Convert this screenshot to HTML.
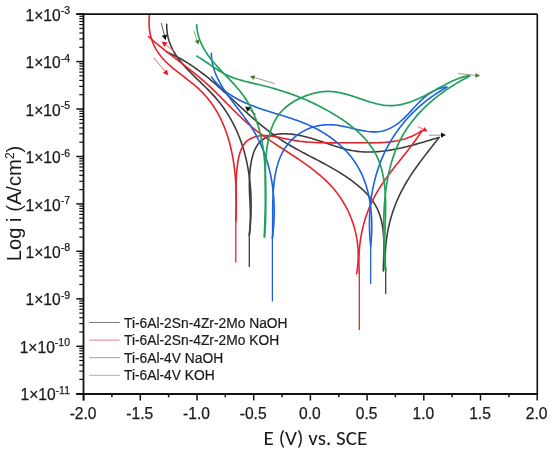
<!DOCTYPE html>
<html><head><meta charset="utf-8"><style>
html,body{margin:0;padding:0;background:#fff;}
body{width:550px;height:454px;overflow:hidden;}
svg{display:block;}
</style></head><body>
<svg width="550" height="454" viewBox="0 0 550 454">
<rect width="550" height="454" fill="#fff"/>
<g font-family="Liberation Sans, Arial, sans-serif" font-size="15.6" fill="#1a1a1a" stroke="#1a1a1a" stroke-width="0.25">
<text x="83.1" y="419.2" text-anchor="middle">-2.0</text><text x="139.8" y="419.2" text-anchor="middle">-1.5</text><text x="196.5" y="419.2" text-anchor="middle">-1.0</text><text x="253.2" y="419.2" text-anchor="middle">-0.5</text><text x="309.9" y="419.2" text-anchor="middle">0.0</text><text x="366.6" y="419.2" text-anchor="middle">0.5</text><text x="423.3" y="419.2" text-anchor="middle">1.0</text><text x="480.0" y="419.2" text-anchor="middle">1.5</text><text x="536.7" y="419.2" text-anchor="middle">2.0</text>
<text x="70" y="400.3" text-anchor="end">1&#215;10<tspan dy="-6.5" font-size="10.5">-11</tspan></text><text x="70" y="352.9" text-anchor="end">1&#215;10<tspan dy="-6.5" font-size="10.5">-10</tspan></text><text x="70" y="305.4" text-anchor="end">1&#215;10<tspan dy="-6.5" font-size="10.5">-9</tspan></text><text x="70" y="257.9" text-anchor="end">1&#215;10<tspan dy="-6.5" font-size="10.5">-8</tspan></text><text x="70" y="210.5" text-anchor="end">1&#215;10<tspan dy="-6.5" font-size="10.5">-7</tspan></text><text x="70" y="163.1" text-anchor="end">1&#215;10<tspan dy="-6.5" font-size="10.5">-6</tspan></text><text x="70" y="115.6" text-anchor="end">1&#215;10<tspan dy="-6.5" font-size="10.5">-5</tspan></text><text x="70" y="68.2" text-anchor="end">1&#215;10<tspan dy="-6.5" font-size="10.5">-4</tspan></text><text x="70" y="20.7" text-anchor="end">1&#215;10<tspan dy="-6.5" font-size="10.5">-3</tspan></text>
</g>
<g font-family="Liberation Sans, Arial, sans-serif" font-size="13.8" fill="#1a1a1a" stroke="#1a1a1a" stroke-width="0.2">
<line x1="89.2" y1="322.5" x2="119.7" y2="322.5" stroke="#7a7a7a" stroke-width="1"/><text x="124" y="327.5">Ti-6Al-2Sn-4Zr-2Mo NaOH</text><line x1="89.2" y1="340.1" x2="119.7" y2="340.1" stroke="#de8088" stroke-width="1"/><text x="124" y="345.1">Ti-6Al-2Sn-4Zr-2Mo KOH</text><line x1="89.2" y1="357.7" x2="119.7" y2="357.7" stroke="#78a0ea" stroke-width="1"/><text x="124" y="362.7">Ti-6Al-4V NaOH</text><line x1="89.2" y1="375.3" x2="119.7" y2="375.3" stroke="#88c4a0" stroke-width="1"/><text x="124" y="380.3">Ti-6Al-4V KOH</text>
</g>
<g>
<path d="M166.70 24.40 L166.70 26.58 L166.79 28.71 L166.97 30.80 L167.22 32.84 L167.56 34.85 L167.97 36.82 L168.45 38.75 L169.01 40.64 L169.63 42.50 L170.32 44.33 L171.08 46.12 L171.89 47.88 L172.76 49.62 L173.69 51.32 L174.67 53.00 L175.70 54.66 L176.78 56.29 L177.90 57.89 L179.07 59.48 L180.27 61.05 L181.51 62.60 L182.79 64.13 L184.10 65.65 L185.44 67.15 L186.80 68.64 L188.19 70.12 L189.60 71.58 L191.03 73.04 L192.48 74.50 L193.94 75.94 L195.41 77.39 L196.89 78.83 L198.37 80.26 L199.86 81.70 L201.35 83.14 L202.84 84.58 L204.32 86.02 L205.80 87.47 L207.27 88.93 L208.72 90.40 L210.16 91.87 L211.58 93.35 L212.98 94.85 L214.36 96.36 L215.72 97.89 L217.04 99.43 L218.34 100.98 L219.61 102.56 L220.85 104.15 L222.06 105.75 L223.24 107.37 L224.40 109.01 L225.53 110.66 L226.63 112.33 L227.70 114.01 L228.75 115.70 L229.77 117.41 L230.77 119.13 L231.73 120.87 L232.67 122.62 L233.59 124.38 L234.48 126.15 L235.34 127.94 L236.18 129.73 L236.99 131.54 L237.78 133.36 L238.54 135.20 L239.28 137.04 L240.00 138.89 L240.69 140.76 L241.35 142.63 L241.99 144.51 L242.61 146.41 L243.21 148.31 L243.78 150.22 L244.33 152.14 L244.85 154.07 L245.35 156.00 L245.83 157.95 L246.29 159.90 L246.73 161.86 L247.14 163.83 L247.53 165.80 L247.90 167.78 L248.25 169.77 L248.58 171.76 L248.89 173.76 L249.17 175.76 L249.44 177.77 L249.68 179.78 L249.91 181.80 L250.11 183.82 L250.30 185.85 L250.46 187.88 L250.61 189.91 L250.73 191.95 L250.84 193.99 L250.93 196.03 L251.00 198.08 L251.05 200.12 L251.09 202.17 L251.10 204.22 L251.10 206.28 L251.08 208.33 L251.04 210.38 L250.99 212.44 L250.92 214.49 L250.83 216.55 L250.72 218.60 L250.60 220.66 L250.46 222.71 L250.31 224.76 L250.14 226.82 L249.95 228.86 L249.75 230.91 L249.53 232.96 L249.30 235.00" fill="none" stroke="#3c3c3c" stroke-width="1.60" stroke-linejoin="round" stroke-linecap="round"/>
<path d="M249.30 235.00 L249.57 232.57 L249.80 230.21 L249.98 227.91 L250.13 225.67 L250.25 223.47 L250.33 221.33 L250.38 219.23 L250.41 217.17 L250.41 215.16 L250.39 213.17 L250.35 211.22 L250.30 209.29 L250.23 207.39 L250.15 205.50 L250.06 203.64 L249.97 201.78 L249.88 199.93 L249.78 198.09 L249.69 196.25 L249.61 194.41 L249.53 192.56 L249.47 190.70 L249.41 188.82 L249.38 186.93 L249.36 185.02 L249.37 183.09 L249.40 181.12 L249.45 179.13 L249.54 177.10 L249.66 175.03 L249.81 172.91 L250.01 170.75 L250.24 168.56 L250.52 166.34 L250.85 164.12 L251.24 161.89 L251.69 159.69 L252.20 157.52 L252.78 155.39 L253.43 153.32 L254.16 151.32 L254.98 149.41 L255.88 147.59 L256.87 145.89 L257.95 144.31 L259.13 142.86 L260.40 141.54 L261.75 140.33 L263.18 139.24 L264.69 138.26 L266.26 137.39 L267.90 136.62 L269.61 135.95 L271.37 135.38 L273.18 134.91 L275.03 134.52 L276.93 134.21 L278.87 133.99 L280.84 133.85 L282.83 133.77 L284.86 133.77 L286.89 133.83 L288.95 133.96 L291.01 134.14 L293.08 134.38 L295.14 134.67 L297.21 135.00 L299.26 135.38 L301.30 135.79 L303.32 136.24 L305.34 136.73 L307.34 137.24 L309.32 137.78 L311.30 138.34 L313.26 138.93 L315.22 139.53 L317.17 140.15 L319.11 140.78 L321.05 141.42 L322.98 142.06 L324.90 142.71 L326.82 143.36 L328.74 144.00 L330.65 144.65 L332.56 145.28 L334.47 145.90 L336.39 146.50 L338.30 147.09 L340.22 147.66 L342.13 148.21 L344.06 148.73 L345.98 149.22 L347.91 149.68 L349.85 150.10 L351.80 150.49 L353.75 150.83 L355.71 151.14 L357.68 151.39 L359.66 151.60 L361.65 151.76 L363.65 151.89 L365.66 151.97 L367.67 152.00 L369.68 152.00 L371.71 151.96 L373.73 151.89 L375.77 151.78 L377.80 151.63 L379.84 151.45 L381.88 151.24 L383.92 151.00 L385.96 150.74 L388.00 150.44 L390.04 150.12 L392.09 149.77 L394.12 149.40 L396.16 149.01 L398.19 148.59 L400.22 148.16 L402.25 147.71 L404.27 147.24 L406.28 146.75 L408.29 146.25 L410.29 145.74 L412.28 145.22 L414.26 144.68 L416.24 144.14 L418.20 143.59 L420.16 143.03 L422.10 142.47 L424.04 141.90 L425.96 141.34 L427.86 140.77 L429.76 140.20 L431.64 139.63 L433.50 139.06 L435.35 138.50 L437.18 137.95 L439.00 137.40" fill="none" stroke="#3c3c3c" stroke-width="1.60" stroke-linejoin="round" stroke-linecap="round"/>
<path d="M439.00 137.60 L437.77 139.18 L436.53 140.76 L435.28 142.35 L434.04 143.93 L432.79 145.52 L431.53 147.12 L430.28 148.71 L429.03 150.31 L427.78 151.91 L426.54 153.52 L425.29 155.13 L424.05 156.75 L422.82 158.37 L421.59 159.99 L420.38 161.63 L419.17 163.26 L417.97 164.91 L416.78 166.56 L415.60 168.22 L414.43 169.89 L413.28 171.56 L412.14 173.24 L411.02 174.93 L409.92 176.63 L408.83 178.34 L407.76 180.05 L406.71 181.78 L405.68 183.52 L404.67 185.26 L403.69 187.02 L402.73 188.79 L401.79 190.57 L400.88 192.36 L399.99 194.16 L399.13 195.97 L398.29 197.79 L397.48 199.63 L396.69 201.47 L395.93 203.32 L395.19 205.18 L394.48 207.06 L393.80 208.94 L393.14 210.83 L392.50 212.73 L391.89 214.64 L391.31 216.55 L390.75 218.48 L390.22 220.42 L389.72 222.36 L389.24 224.31 L388.79 226.27 L388.37 228.23 L387.97 230.21 L387.59 232.19 L387.25 234.18 L386.93 236.17 L386.64 238.18 L386.37 240.19 L386.14 242.20 L385.93 244.22 L385.74 246.25 L385.59 248.28 L385.46 250.32 L385.36 252.37 L385.28 254.42 L385.24 256.48 L385.22 258.54 L385.23 260.60 L385.27 262.67 L385.33 264.75 L385.43 266.83 L385.55 268.91 L385.70 271.00" fill="none" stroke="#3c3c3c" stroke-width="1.60" stroke-linejoin="round" stroke-linecap="round"/>
<path d="M383.30 271.00 L383.35 269.11 L383.41 267.18 L383.47 265.23 L383.54 263.26 L383.61 261.27 L383.68 259.26 L383.75 257.23 L383.80 255.18 L383.85 253.12 L383.89 251.05 L383.91 248.98 L383.92 246.89 L383.90 244.81 L383.87 242.72 L383.81 240.63 L383.72 238.54 L383.60 236.46 L383.45 234.38 L383.27 232.32 L383.05 230.26 L382.79 228.22 L382.48 226.20 L382.14 224.19 L381.74 222.20 L381.29 220.23 L380.80 218.29 L380.24 216.37 L379.63 214.49 L378.96 212.63 L378.22 210.81 L377.42 209.02 L376.56 207.27 L375.62 205.56 L374.62 203.88 L373.56 202.24 L372.45 200.63 L371.28 199.06 L370.06 197.52 L368.79 196.02 L367.48 194.54 L366.13 193.10 L364.75 191.69 L363.32 190.30 L361.87 188.95 L360.39 187.62 L358.89 186.32 L357.37 185.04 L355.83 183.79 L354.26 182.56 L352.68 181.36 L351.09 180.17 L349.47 179.01 L347.84 177.87 L346.19 176.75 L344.53 175.64 L342.86 174.56 L341.17 173.48 L339.47 172.43 L337.76 171.39 L336.04 170.36 L334.30 169.34 L332.56 168.34 L330.81 167.35 L329.05 166.36 L327.28 165.39 L325.51 164.42 L323.73 163.46 L321.94 162.50 L320.16 161.55 L318.36 160.60 L316.57 159.66 L314.77 158.72 L312.97 157.78 L311.17 156.84 L309.37 155.90 L307.57 154.95 L305.78 154.01 L303.98 153.06 L302.19 152.10 L300.40 151.14 L298.62 150.17 L296.84 149.20 L295.07 148.22 L293.30 147.22 L291.55 146.22 L289.80 145.21 L288.05 144.18 L286.32 143.14 L284.60 142.09 L282.89 141.02 L281.19 139.93 L279.51 138.83 L277.84 137.71 L276.18 136.57 L274.53 135.42 L272.90 134.25 L271.27 133.06 L269.66 131.86 L268.06 130.64 L266.47 129.41 L264.89 128.16 L263.32 126.91 L261.76 125.64 L260.21 124.36 L258.66 123.07 L257.13 121.77 L255.60 120.46 L254.07 119.14 L252.56 117.81 L251.05 116.48 L249.54 115.13 L248.04 113.79 L246.54 112.43 L245.05 111.08 L243.56 109.71 L242.08 108.35 L240.59 106.98 L239.11 105.61 L237.63 104.24 L236.15 102.87 L234.67 101.49 L233.19 100.12 L231.72 98.75 L230.24 97.38 L228.76 96.01 L227.27 94.65 L225.79 93.28 L224.30 91.93 L222.81 90.58 L221.32 89.23 L219.82 87.89 L218.32 86.56 L216.81 85.23 L215.30 83.91 L213.78 82.61 L212.26 81.31 L210.73 80.02 L209.19 78.74 L207.64 77.47 L206.09 76.22 L204.52 74.98 L202.95 73.75 L201.37 72.53 L199.78 71.33 L198.17 70.15 L196.56 68.98 L194.94 67.83 L193.30 66.69 L191.65 65.58 L189.99 64.48 L188.31 63.40 L186.62 62.34 L184.92 61.31 L183.20 60.29 L181.47 59.29 L179.72 58.32 L177.96 57.37 L176.17 56.45 L174.38 55.54 L172.56 54.67 L170.73 53.82 L168.87 52.99 L167.00 52.20" fill="none" stroke="#3c3c3c" stroke-width="1.60" stroke-linejoin="round" stroke-linecap="round"/>
<line x1="249.3" y1="235.0" x2="249.3" y2="267.0" stroke="#3c3c3c" stroke-width="1.3"/>
<line x1="385.7" y1="271.0" x2="385.7" y2="294.0" stroke="#3c3c3c" stroke-width="1.3"/>
<path d="M149.50 14.50 L149.27 16.75 L149.12 18.97 L149.05 21.16 L149.05 23.31 L149.12 25.44 L149.27 27.53 L149.49 29.58 L149.79 31.61 L150.15 33.59 L150.59 35.55 L151.09 37.47 L151.67 39.36 L152.30 41.21 L153.01 43.03 L153.78 44.82 L154.62 46.56 L155.52 48.28 L156.48 49.95 L157.50 51.60 L158.58 53.20 L159.73 54.77 L160.93 56.30 L162.18 57.80 L163.49 59.27 L164.85 60.71 L166.25 62.12 L167.69 63.50 L169.17 64.86 L170.68 66.20 L172.22 67.53 L173.79 68.84 L175.38 70.13 L176.99 71.41 L178.61 72.69 L180.25 73.96 L181.89 75.22 L183.54 76.49 L185.19 77.75 L186.84 79.02 L188.48 80.29 L190.10 81.57 L191.72 82.86 L193.32 84.17 L194.89 85.49 L196.44 86.82 L197.96 88.18 L199.45 89.56 L200.91 90.96 L202.32 92.39 L203.70 93.84 L205.05 95.31 L206.36 96.81 L207.64 98.33 L208.88 99.88 L210.08 101.44 L211.26 103.03 L212.40 104.63 L213.50 106.26 L214.58 107.91 L215.62 109.58 L216.63 111.26 L217.61 112.96 L218.56 114.69 L219.48 116.43 L220.37 118.18 L221.23 119.95 L222.06 121.74 L222.87 123.55 L223.64 125.37 L224.39 127.20 L225.11 129.05 L225.80 130.91 L226.46 132.79 L227.10 134.67 L227.72 136.57 L228.31 138.48 L228.87 140.41 L229.41 142.34 L229.92 144.28 L230.42 146.24 L230.88 148.20 L231.33 150.17 L231.75 152.15 L232.15 154.14 L232.53 156.13 L232.89 158.13 L233.23 160.14 L233.55 162.16 L233.85 164.18 L234.12 166.20 L234.38 168.23 L234.62 170.26 L234.85 172.30 L235.05 174.34 L235.24 176.38 L235.41 178.43 L235.56 180.47 L235.70 182.52 L235.82 184.57 L235.93 186.62 L236.02 188.66 L236.09 190.71 L236.16 192.76 L236.21 194.80 L236.24 196.84 L236.27 198.88 L236.28 200.92 L236.28 202.95 L236.26 204.98 L236.24 207.00 L236.21 209.02 L236.16 211.04 L236.11 213.04 L236.04 215.04 L235.97 217.04 L235.89 219.02 L235.80 221.00" fill="none" stroke="#e8222b" stroke-width="1.60" stroke-linejoin="round" stroke-linecap="round"/>
<path d="M235.80 221.00 L235.91 218.93 L235.99 216.87 L236.06 214.83 L236.11 212.80 L236.14 210.79 L236.16 208.78 L236.16 206.78 L236.16 204.79 L236.15 202.81 L236.14 200.83 L236.13 198.85 L236.11 196.88 L236.09 194.90 L236.08 192.92 L236.08 190.94 L236.08 188.95 L236.10 186.96 L236.12 184.96 L236.16 182.94 L236.22 180.92 L236.30 178.89 L236.40 176.84 L236.52 174.77 L236.66 172.69 L236.84 170.59 L237.04 168.47 L237.28 166.33 L237.55 164.17 L237.87 162.01 L238.23 159.87 L238.66 157.75 L239.14 155.67 L239.70 153.64 L240.33 151.67 L241.04 149.77 L241.85 147.97 L242.74 146.27 L243.74 144.68 L244.85 143.22 L246.07 141.89 L247.40 140.71 L248.83 139.66 L250.35 138.74 L251.96 137.95 L253.64 137.28 L255.39 136.73 L257.19 136.29 L259.04 135.97 L260.93 135.75 L262.86 135.63 L264.81 135.61 L266.77 135.67 L268.76 135.81 L270.77 136.02 L272.79 136.30 L274.82 136.62 L276.86 136.98 L278.91 137.38 L280.97 137.80 L283.03 138.23 L285.10 138.66 L287.16 139.09 L289.22 139.51 L291.28 139.90 L293.33 140.26 L295.38 140.60 L297.42 140.90 L299.45 141.17 L301.48 141.42 L303.51 141.65 L305.53 141.85 L307.55 142.03 L309.56 142.18 L311.57 142.32 L313.58 142.44 L315.59 142.54 L317.59 142.62 L319.59 142.69 L321.59 142.74 L323.58 142.78 L325.58 142.81 L327.57 142.83 L329.57 142.84 L331.56 142.85 L333.56 142.84 L335.55 142.83 L337.54 142.82 L339.54 142.80 L341.54 142.78 L343.53 142.76 L345.53 142.75 L347.54 142.73 L349.54 142.72 L351.55 142.71 L353.56 142.71 L355.57 142.71 L357.59 142.72 L359.61 142.74 L361.63 142.76 L363.65 142.79 L365.68 142.81 L367.70 142.82 L369.73 142.83 L371.75 142.83 L373.78 142.82 L375.80 142.79 L377.82 142.74 L379.83 142.67 L381.84 142.58 L383.85 142.47 L385.85 142.32 L387.84 142.14 L389.83 141.93 L391.81 141.68 L393.79 141.39 L395.75 141.06 L397.71 140.69 L399.65 140.26 L401.59 139.79 L403.51 139.27 L405.42 138.68 L407.32 138.04 L409.21 137.34 L411.08 136.58 L412.94 135.75 L414.79 134.84 L416.62 133.87 L418.43 132.83 L420.22 131.70 L422.00 130.50" fill="none" stroke="#e8222b" stroke-width="1.60" stroke-linejoin="round" stroke-linecap="round"/>
<path d="M422.00 130.70 L420.92 132.39 L419.81 134.06 L418.68 135.73 L417.53 137.39 L416.37 139.04 L415.18 140.68 L413.98 142.31 L412.77 143.94 L411.55 145.57 L410.31 147.19 L409.07 148.81 L407.81 150.42 L406.55 152.03 L405.28 153.64 L404.01 155.24 L402.73 156.85 L401.45 158.45 L400.17 160.05 L398.89 161.66 L397.62 163.26 L396.34 164.87 L395.07 166.48 L393.81 168.10 L392.56 169.71 L391.31 171.33 L390.07 172.96 L388.85 174.59 L387.63 176.23 L386.43 177.87 L385.25 179.52 L384.08 181.18 L382.93 182.85 L381.80 184.53 L380.70 186.21 L379.61 187.91 L378.54 189.62 L377.50 191.33 L376.49 193.06 L375.51 194.81 L374.55 196.56 L373.62 198.33 L372.72 200.12 L371.85 201.91 L371.01 203.72 L370.20 205.54 L369.41 207.37 L368.66 209.22 L367.93 211.08 L367.23 212.94 L366.56 214.82 L365.92 216.71 L365.31 218.61 L364.73 220.52 L364.17 222.44 L363.65 224.37 L363.15 226.31 L362.68 228.26 L362.23 230.22 L361.82 232.19 L361.43 234.16 L361.07 236.15 L360.74 238.14 L360.44 240.14 L360.16 242.15 L359.91 244.16 L359.69 246.18 L359.50 248.21 L359.33 250.25 L359.20 252.29 L359.08 254.34 L359.00 256.39 L358.94 258.45 L358.91 260.52 L358.91 262.58 L358.94 264.66 L358.99 266.74 L359.07 268.82 L359.17 270.91 L359.30 273.00" fill="none" stroke="#e8222b" stroke-width="1.60" stroke-linejoin="round" stroke-linecap="round"/>
<path d="M356.60 273.60 L356.95 271.52 L357.26 269.43 L357.52 267.36 L357.75 265.28 L357.92 263.21 L358.06 261.14 L358.15 259.07 L358.21 257.01 L358.22 254.96 L358.19 252.91 L358.11 250.87 L358.00 248.84 L357.85 246.81 L357.66 244.80 L357.43 242.79 L357.16 240.79 L356.85 238.80 L356.50 236.82 L356.11 234.85 L355.69 232.89 L355.23 230.94 L354.73 229.01 L354.20 227.08 L353.62 225.18 L353.02 223.28 L352.37 221.40 L351.70 219.53 L350.98 217.68 L350.23 215.85 L349.45 214.03 L348.64 212.23 L347.79 210.44 L346.90 208.67 L345.99 206.92 L345.04 205.19 L344.06 203.48 L343.05 201.79 L342.00 200.12 L340.93 198.47 L339.82 196.84 L338.68 195.23 L337.52 193.65 L336.32 192.08 L335.09 190.54 L333.84 189.03 L332.55 187.54 L331.24 186.07 L329.90 184.63 L328.54 183.21 L327.14 181.81 L325.73 180.43 L324.29 179.07 L322.83 177.73 L321.34 176.41 L319.84 175.10 L318.31 173.82 L316.77 172.55 L315.21 171.29 L313.63 170.05 L312.03 168.82 L310.42 167.61 L308.80 166.41 L307.16 165.21 L305.51 164.03 L303.84 162.86 L302.17 161.70 L300.49 160.54 L298.80 159.39 L297.10 158.25 L295.39 157.11 L293.68 155.98 L291.96 154.85 L290.24 153.73 L288.51 152.60 L286.78 151.48 L285.05 150.36 L283.32 149.24 L281.59 148.11 L279.86 146.99 L278.14 145.86 L276.41 144.73 L274.69 143.59 L272.98 142.45 L271.27 141.30 L269.57 140.15 L267.87 138.98 L266.19 137.81 L264.51 136.63 L262.85 135.44 L261.19 134.24 L259.55 133.03 L257.92 131.80 L256.31 130.56 L254.71 129.31 L253.12 128.04 L251.56 126.76 L250.01 125.46 L248.47 124.14 L246.95 122.81 L245.45 121.47 L243.95 120.12 L242.47 118.76 L241.00 117.38 L239.54 116.00 L238.09 114.61 L236.64 113.21 L235.21 111.80 L233.77 110.39 L232.35 108.97 L230.93 107.55 L229.51 106.12 L228.10 104.70 L226.69 103.27 L225.27 101.84 L223.86 100.41 L222.45 98.98 L221.03 97.55 L219.62 96.13 L218.19 94.71 L216.77 93.30 L215.34 91.89 L213.90 90.48 L212.45 89.09 L211.00 87.70 L209.53 86.32 L208.06 84.95 L206.58 83.59 L205.08 82.24 L203.57 80.91 L202.05 79.58 L200.51 78.27 L198.97 76.97 L197.42 75.67 L195.85 74.39 L194.28 73.11 L192.70 71.84 L191.12 70.58 L189.53 69.32 L187.93 68.07 L186.33 66.82 L184.72 65.58 L183.12 64.34 L181.50 63.10 L179.89 61.87 L178.28 60.63 L176.67 59.40 L175.06 58.17 L173.45 56.93 L171.84 55.70 L170.23 54.46 L168.63 53.22 L167.03 51.97 L165.44 50.72 L163.86 49.47 L162.28 48.21 L160.71 46.94 L159.14 45.67 L157.59 44.39 L156.05 43.10 L154.51 41.80 L152.99 40.49 L151.48 39.17 L149.98 37.84 L148.50 36.50" fill="none" stroke="#e8222b" stroke-width="1.60" stroke-linejoin="round" stroke-linecap="round"/>
<line x1="235.8" y1="221.0" x2="235.8" y2="262.5" stroke="#e8222b" stroke-width="1.3"/>
<line x1="359.3" y1="273.0" x2="359.3" y2="330.0" stroke="#e8222b" stroke-width="1.3"/>
<path d="M211.30 53.30 L211.39 55.40 L211.57 57.47 L211.81 59.51 L212.13 61.52 L212.51 63.50 L212.95 65.45 L213.46 67.38 L214.03 69.28 L214.65 71.15 L215.32 73.01 L216.05 74.84 L216.83 76.64 L217.66 78.43 L218.53 80.20 L219.44 81.96 L220.39 83.69 L221.38 85.41 L222.40 87.12 L223.45 88.81 L224.54 90.49 L225.65 92.16 L226.79 93.82 L227.95 95.47 L229.13 97.11 L230.33 98.75 L231.54 100.38 L232.76 102.00 L234.00 103.63 L235.24 105.25 L236.49 106.86 L237.74 108.48 L238.99 110.10 L240.24 111.73 L241.49 113.35 L242.73 114.98 L243.96 116.62 L245.17 118.26 L246.38 119.91 L247.56 121.57 L248.73 123.23 L249.88 124.91 L251.00 126.60 L252.09 128.31 L253.16 130.03 L254.20 131.76 L255.21 133.51 L256.19 135.26 L257.14 137.04 L258.07 138.82 L258.96 140.62 L259.83 142.43 L260.67 144.25 L261.49 146.09 L262.28 147.93 L263.04 149.79 L263.77 151.65 L264.48 153.53 L265.16 155.42 L265.82 157.32 L266.45 159.22 L267.05 161.14 L267.62 163.07 L268.18 165.00 L268.70 166.94 L269.20 168.89 L269.68 170.85 L270.13 172.82 L270.56 174.79 L270.96 176.77 L271.33 178.76 L271.69 180.75 L272.02 182.75 L272.32 184.76 L272.60 186.77 L272.86 188.78 L273.09 190.81 L273.30 192.83 L273.49 194.86 L273.66 196.90 L273.80 198.94 L273.92 200.98 L274.01 203.02 L274.09 205.07 L274.14 207.12 L274.17 209.17 L274.18 211.23 L274.17 213.29 L274.13 215.34 L274.08 217.40 L274.00 219.46 L273.91 221.52 L273.79 223.59 L273.65 225.65 L273.49 227.71 L273.31 229.77 L273.11 231.83 L272.89 233.89 L272.66 235.95 L272.40 238.00" fill="none" stroke="#1c62e0" stroke-width="1.60" stroke-linejoin="round" stroke-linecap="round"/>
<path d="M272.40 238.00 L272.48 236.30 L272.55 234.57 L272.60 232.79 L272.64 230.98 L272.66 229.13 L272.68 227.25 L272.69 225.33 L272.70 223.39 L272.70 221.42 L272.70 219.42 L272.69 217.40 L272.69 215.36 L272.70 213.30 L272.70 211.22 L272.72 209.13 L272.74 207.02 L272.77 204.90 L272.81 202.77 L272.87 200.63 L272.94 198.48 L273.02 196.33 L273.13 194.18 L273.26 192.03 L273.40 189.88 L273.58 187.74 L273.77 185.60 L274.00 183.46 L274.25 181.34 L274.53 179.23 L274.85 177.13 L275.20 175.05 L275.59 172.99 L276.01 170.94 L276.47 168.92 L276.98 166.92 L277.52 164.94 L278.11 162.99 L278.75 161.08 L279.44 159.19 L280.17 157.33 L280.96 155.52 L281.80 153.73 L282.69 151.99 L283.64 150.29 L284.65 148.63 L285.72 147.02 L286.84 145.45 L288.03 143.93 L289.27 142.46 L290.56 141.03 L291.91 139.66 L293.30 138.34 L294.74 137.08 L296.23 135.86 L297.77 134.71 L299.34 133.61 L300.96 132.57 L302.62 131.58 L304.31 130.66 L306.05 129.80 L307.81 129.00 L309.61 128.27 L311.44 127.60 L313.29 127.00 L315.18 126.46 L317.09 125.99 L319.02 125.60 L320.98 125.27 L322.95 125.02 L324.95 124.83 L326.96 124.73 L328.98 124.70 L331.02 124.74 L333.07 124.86 L335.13 125.06 L337.20 125.32 L339.28 125.63 L341.36 125.99 L343.44 126.39 L345.52 126.83 L347.61 127.29 L349.70 127.76 L351.78 128.25 L353.86 128.73 L355.93 129.21 L358.00 129.67 L360.06 130.11 L362.10 130.52 L364.14 130.89 L366.16 131.22 L368.17 131.49 L370.16 131.70 L372.13 131.84 L374.09 131.90 L376.02 131.88 L377.93 131.76 L379.81 131.54 L381.67 131.22 L383.51 130.78 L385.32 130.24 L387.10 129.61 L388.85 128.88 L390.58 128.06 L392.28 127.15 L393.95 126.17 L395.59 125.10 L397.21 123.97 L398.79 122.77 L400.35 121.50 L401.88 120.18 L403.38 118.81 L404.85 117.39 L406.31 115.93 L407.75 114.44 L409.18 112.93 L410.60 111.41 L412.01 109.87 L413.42 108.33 L414.84 106.80 L416.25 105.28 L417.68 103.78 L419.12 102.30 L420.58 100.87 L422.06 99.47 L423.56 98.12 L425.08 96.82 L426.64 95.57 L428.23 94.39 L429.86 93.28 L431.54 92.24 L433.25 91.27 L435.01 90.38 L436.83 89.58 L438.70 88.86 L440.63 88.24 L442.62 87.73 L444.68 87.31 L446.80 87.00" fill="none" stroke="#1c62e0" stroke-width="1.60" stroke-linejoin="round" stroke-linecap="round"/>
<path d="M446.80 87.30 L444.99 88.32 L443.18 89.36 L441.40 90.43 L439.63 91.51 L437.88 92.62 L436.15 93.75 L434.43 94.90 L432.74 96.07 L431.06 97.27 L429.40 98.48 L427.76 99.71 L426.14 100.97 L424.53 102.24 L422.95 103.54 L421.39 104.85 L419.84 106.19 L418.32 107.54 L416.81 108.92 L415.33 110.31 L413.87 111.72 L412.43 113.15 L411.01 114.59 L409.61 116.06 L408.23 117.54 L406.87 119.04 L405.54 120.56 L404.23 122.10 L402.94 123.65 L401.67 125.22 L400.43 126.80 L399.21 128.40 L398.01 130.02 L396.84 131.65 L395.68 133.30 L394.56 134.97 L393.46 136.65 L392.38 138.34 L391.32 140.05 L390.29 141.78 L389.29 143.52 L388.31 145.27 L387.36 147.04 L386.43 148.82 L385.53 150.61 L384.65 152.42 L383.80 154.24 L382.98 156.08 L382.18 157.92 L381.40 159.78 L380.65 161.65 L379.93 163.53 L379.23 165.42 L378.56 167.32 L377.91 169.24 L377.29 171.16 L376.69 173.09 L376.12 175.03 L375.57 176.98 L375.04 178.94 L374.54 180.90 L374.07 182.88 L373.62 184.86 L373.19 186.84 L372.78 188.84 L372.40 190.84 L372.05 192.85 L371.71 194.86 L371.40 196.88 L371.12 198.90 L370.85 200.93 L370.61 202.96 L370.39 205.00 L370.20 207.04 L370.03 209.08 L369.88 211.12 L369.75 213.17 L369.65 215.22 L369.57 217.27 L369.51 219.33 L369.47 221.38 L369.45 223.44 L369.46 225.49 L369.49 227.55 L369.54 229.61 L369.61 231.66 L369.70 233.71 L369.82 235.77 L369.95 237.82 L370.11 239.87 L370.29 241.92 L370.49 243.96 L370.70 246.00" fill="none" stroke="#1c62e0" stroke-width="1.60" stroke-linejoin="round" stroke-linecap="round"/>
<path d="M370.70 246.00 L370.90 244.01 L371.08 242.00 L371.24 239.98 L371.38 237.95 L371.50 235.92 L371.60 233.87 L371.67 231.82 L371.73 229.77 L371.76 227.71 L371.76 225.64 L371.74 223.57 L371.70 221.50 L371.63 219.43 L371.53 217.36 L371.41 215.29 L371.25 213.22 L371.07 211.16 L370.87 209.10 L370.63 207.05 L370.36 205.00 L370.07 202.95 L369.74 200.92 L369.38 198.90 L368.99 196.88 L368.57 194.88 L368.11 192.89 L367.62 190.91 L367.09 188.95 L366.54 187.00 L365.94 185.06 L365.31 183.15 L364.64 181.25 L363.94 179.37 L363.20 177.51 L362.42 175.67 L361.60 173.86 L360.74 172.06 L359.84 170.29 L358.91 168.55 L357.93 166.83 L356.91 165.14 L355.86 163.47 L354.76 161.82 L353.63 160.21 L352.47 158.62 L351.27 157.05 L350.03 155.51 L348.76 154.00 L347.46 152.51 L346.12 151.05 L344.75 149.61 L343.36 148.20 L341.93 146.82 L340.47 145.47 L338.98 144.14 L337.47 142.83 L335.93 141.56 L334.36 140.31 L332.77 139.09 L331.15 137.89 L329.51 136.73 L327.85 135.59 L326.16 134.47 L324.45 133.39 L322.73 132.33 L320.98 131.30 L319.21 130.30 L317.42 129.32 L315.62 128.38 L313.79 127.46 L311.95 126.57 L310.10 125.71 L308.23 124.87 L306.35 124.07 L304.45 123.28 L302.55 122.52 L300.63 121.78 L298.70 121.06 L296.76 120.36 L294.82 119.68 L292.86 119.01 L290.91 118.35 L288.94 117.71 L286.97 117.07 L285.00 116.45 L283.03 115.83 L281.05 115.22 L279.07 114.61 L277.10 114.00 L275.12 113.40 L273.15 112.79 L271.18 112.18 L269.21 111.57 L267.25 110.95 L265.29 110.32 L263.35 109.69 L261.41 109.04 L259.47 108.39 L257.55 107.72 L255.64 107.03 L253.74 106.33 L251.85 105.61 L249.98 104.87 L248.12 104.10 L246.28 103.32 L244.45 102.51 L242.64 101.67 L240.85 100.81 L239.08 99.92 L237.32 98.99 L235.59 98.04 L233.88 97.05 L232.19 96.02 L230.53 94.95 L228.89 93.85 L227.28 92.71 L225.69 91.52 L224.13 90.29 L222.60 89.02 L221.10 87.70 L219.63 86.33 L218.19 84.91 L216.79 83.44 L215.41 81.91 L214.07 80.33 L212.77 78.70 L211.50 77.00" fill="none" stroke="#1c62e0" stroke-width="1.60" stroke-linejoin="round" stroke-linecap="round"/>
<line x1="272.4" y1="238.0" x2="272.4" y2="301.5" stroke="#1c62e0" stroke-width="1.3"/>
<line x1="370.7" y1="246.0" x2="370.7" y2="284.0" stroke="#1c62e0" stroke-width="1.3"/>
<path d="M196.70 24.90 L196.85 27.04 L197.08 29.14 L197.40 31.19 L197.79 33.20 L198.26 35.17 L198.81 37.10 L199.43 39.00 L200.11 40.86 L200.86 42.68 L201.67 44.48 L202.54 46.24 L203.46 47.97 L204.44 49.68 L205.46 51.36 L206.54 53.01 L207.65 54.65 L208.81 56.26 L210.01 57.85 L211.24 59.42 L212.50 60.98 L213.79 62.52 L215.11 64.05 L216.45 65.56 L217.81 67.07 L219.19 68.57 L220.58 70.05 L221.98 71.54 L223.39 73.02 L224.81 74.50 L226.23 75.97 L227.65 77.45 L229.06 78.93 L230.47 80.41 L231.86 81.90 L233.25 83.39 L234.62 84.90 L235.97 86.41 L237.30 87.94 L238.61 89.48 L239.88 91.03 L241.13 92.60 L242.35 94.19 L243.52 95.79 L244.66 97.42 L245.76 99.07 L246.83 100.73 L247.85 102.42 L248.84 104.13 L249.80 105.85 L250.72 107.59 L251.60 109.35 L252.45 111.13 L253.27 112.92 L254.05 114.73 L254.80 116.56 L255.53 118.40 L256.21 120.25 L256.87 122.12 L257.50 124.00 L258.10 125.90 L258.68 127.81 L259.22 129.73 L259.74 131.67 L260.23 133.61 L260.69 135.57 L261.13 137.53 L261.54 139.51 L261.93 141.50 L262.30 143.49 L262.64 145.49 L262.97 147.51 L263.27 149.53 L263.54 151.55 L263.80 153.59 L264.04 155.63 L264.26 157.67 L264.46 159.72 L264.64 161.78 L264.81 163.84 L264.96 165.90 L265.09 167.97 L265.21 170.04 L265.31 172.11 L265.40 174.19 L265.47 176.27 L265.53 178.35 L265.58 180.42 L265.62 182.50 L265.64 184.58 L265.66 186.66 L265.66 188.74 L265.66 190.81 L265.64 192.88 L265.62 194.95 L265.59 197.02 L265.56 199.09 L265.52 201.15 L265.47 203.20 L265.42 205.25 L265.36 207.30 L265.30 209.34 L265.24 211.37 L265.17 213.39 L265.10 215.41 L265.03 217.42 L264.96 219.43 L264.89 221.42 L264.82 223.40 L264.75 225.38 L264.69 227.34 L264.62 229.30 L264.56 231.24 L264.50 233.17 L264.45 235.09 L264.40 237.00" fill="none" stroke="#22a05c" stroke-width="1.70" stroke-linejoin="round" stroke-linecap="round"/>
<path d="M264.40 237.00 L264.61 235.07 L264.80 233.12 L264.97 231.17 L265.12 229.21 L265.24 227.23 L265.35 225.25 L265.44 223.27 L265.51 221.27 L265.56 219.27 L265.60 217.26 L265.63 215.24 L265.65 213.22 L265.65 211.19 L265.65 209.15 L265.64 207.12 L265.62 205.07 L265.59 203.03 L265.56 200.98 L265.52 198.92 L265.49 196.86 L265.45 194.81 L265.41 192.74 L265.37 190.68 L265.34 188.62 L265.31 186.55 L265.28 184.49 L265.26 182.42 L265.24 180.36 L265.24 178.29 L265.24 176.23 L265.26 174.17 L265.29 172.11 L265.33 170.05 L265.38 168.00 L265.45 165.95 L265.54 163.90 L265.65 161.86 L265.77 159.82 L265.92 157.79 L266.08 155.76 L266.27 153.74 L266.49 151.72 L266.72 149.71 L266.99 147.71 L267.28 145.71 L267.60 143.73 L267.96 141.75 L268.34 139.78 L268.76 137.83 L269.22 135.89 L269.72 133.97 L270.27 132.07 L270.86 130.19 L271.51 128.34 L272.20 126.51 L272.95 124.72 L273.76 122.95 L274.63 121.22 L275.56 119.53 L276.55 117.87 L277.62 116.25 L278.75 114.68 L279.96 113.15 L281.25 111.67 L282.60 110.24 L284.03 108.86 L285.52 107.52 L287.07 106.23 L288.68 105.00 L290.33 103.81 L292.04 102.67 L293.79 101.58 L295.58 100.54 L297.41 99.56 L299.27 98.62 L301.15 97.74 L303.07 96.91 L305.00 96.13 L306.95 95.40 L308.91 94.73 L310.88 94.11 L312.86 93.55 L314.84 93.05 L316.84 92.62 L318.84 92.24 L320.84 91.94 L322.84 91.71 L324.84 91.55 L326.85 91.46 L328.85 91.45 L330.84 91.52 L332.83 91.67 L334.82 91.88 L336.80 92.17 L338.78 92.51 L340.75 92.90 L342.72 93.35 L344.69 93.84 L346.65 94.37 L348.61 94.94 L350.57 95.53 L352.52 96.15 L354.47 96.78 L356.42 97.43 L358.36 98.09 L360.30 98.76 L362.24 99.42 L364.18 100.07 L366.11 100.71 L368.04 101.34 L369.97 101.94 L371.90 102.51 L373.83 103.05 L375.75 103.56 L377.67 104.02 L379.59 104.43 L381.51 104.79 L383.43 105.09 L385.35 105.33 L387.26 105.50 L389.18 105.60 L391.09 105.61 L393.00 105.55 L394.91 105.41 L396.82 105.20 L398.73 104.92 L400.64 104.58 L402.54 104.17 L404.44 103.70 L406.34 103.18 L408.23 102.60 L410.12 101.97 L412.01 101.30 L413.89 100.58 L415.77 99.81 L417.64 99.01 L419.51 98.18 L421.37 97.31 L423.23 96.42 L425.08 95.50 L426.92 94.55 L428.76 93.59 L430.59 92.61 L432.41 91.62 L434.23 90.62 L436.04 89.62 L437.85 88.61 L439.66 87.61 L441.47 86.62 L443.28 85.64 L445.09 84.67 L446.90 83.73 L448.73 82.81 L450.55 81.91 L452.39 81.06 L454.23 80.23 L456.09 79.45 L457.96 78.72 L459.84 78.04 L461.74 77.40 L463.65 76.83 L465.58 76.32 L467.53 75.87 L469.50 75.50" fill="none" stroke="#22a05c" stroke-width="1.70" stroke-linejoin="round" stroke-linecap="round"/>
<path d="M469.50 76.20 L467.70 77.13 L465.90 78.07 L464.11 79.03 L462.32 80.01 L460.54 81.00 L458.77 82.02 L457.01 83.05 L455.26 84.11 L453.52 85.18 L451.78 86.27 L450.06 87.38 L448.35 88.51 L446.66 89.65 L444.97 90.82 L443.30 92.00 L441.64 93.20 L440.00 94.42 L438.38 95.65 L436.77 96.91 L435.17 98.18 L433.59 99.47 L432.04 100.78 L430.49 102.11 L428.97 103.45 L427.47 104.82 L425.99 106.20 L424.53 107.59 L423.09 109.01 L421.67 110.44 L420.28 111.90 L418.91 113.37 L417.56 114.85 L416.24 116.36 L414.94 117.88 L413.67 119.42 L412.42 120.97 L411.20 122.55 L410.01 124.14 L408.85 125.75 L407.72 127.38 L406.61 129.02 L405.54 130.68 L404.50 132.36 L403.49 134.05 L402.51 135.76 L401.56 137.49 L400.64 139.24 L399.75 141.00 L398.89 142.77 L398.06 144.56 L397.26 146.37 L396.48 148.18 L395.74 150.02 L395.02 151.86 L394.33 153.72 L393.66 155.59 L393.02 157.48 L392.41 159.37 L391.82 161.28 L391.26 163.19 L390.72 165.12 L390.20 167.06 L389.71 169.01 L389.24 170.96 L388.80 172.93 L388.38 174.90 L387.97 176.88 L387.59 178.87 L387.23 180.87 L386.89 182.88 L386.57 184.89 L386.27 186.90 L385.99 188.93 L385.73 190.95 L385.49 192.99 L385.26 195.03 L385.06 197.07 L384.86 199.11 L384.69 201.16 L384.53 203.21 L384.39 205.27 L384.26 207.32 L384.15 209.38 L384.05 211.44 L383.96 213.50 L383.89 215.57 L383.84 217.63 L383.79 219.69 L383.76 221.75 L383.74 223.81 L383.73 225.87 L383.73 227.92 L383.74 229.98 L383.76 232.03 L383.79 234.08 L383.83 236.13 L383.88 238.17 L383.94 240.20 L384.00 242.24 L384.08 244.27 L384.16 246.29 L384.24 248.31 L384.33 250.32 L384.43 252.32 L384.54 254.32 L384.64 256.31 L384.76 258.29 L384.87 260.26 L384.99 262.23 L385.12 264.19 L385.24 266.13 L385.37 268.07 L385.50 270.00" fill="none" stroke="#22a05c" stroke-width="1.70" stroke-linejoin="round" stroke-linecap="round"/>
<path d="M385.50 270.00 L385.30 268.14 L385.13 266.26 L384.98 264.36 L384.86 262.45 L384.75 260.52 L384.67 258.58 L384.61 256.62 L384.57 254.65 L384.55 252.67 L384.54 250.68 L384.54 248.67 L384.56 246.65 L384.59 244.63 L384.63 242.60 L384.68 240.55 L384.74 238.50 L384.80 236.45 L384.87 234.38 L384.95 232.31 L385.02 230.24 L385.10 228.16 L385.17 226.08 L385.24 224.00 L385.31 221.91 L385.38 219.83 L385.44 217.74 L385.49 215.65 L385.53 213.57 L385.57 211.48 L385.59 209.40 L385.60 207.32 L385.60 205.24 L385.58 203.17 L385.54 201.11 L385.49 199.05 L385.41 196.99 L385.32 194.95 L385.20 192.91 L385.06 190.88 L384.90 188.85 L384.70 186.84 L384.49 184.84 L384.24 182.85 L383.96 180.88 L383.65 178.91 L383.31 176.96 L382.93 175.02 L382.52 173.10 L382.07 171.20 L381.58 169.31 L381.05 167.43 L380.48 165.58 L379.87 163.74 L379.22 161.92 L378.52 160.13 L377.77 158.35 L376.98 156.59 L376.13 154.86 L375.24 153.15 L374.29 151.46 L373.30 149.80 L372.25 148.16 L371.15 146.54 L370.00 144.95 L368.80 143.38 L367.57 141.83 L366.29 140.31 L364.96 138.81 L363.60 137.33 L362.20 135.88 L360.77 134.44 L359.30 133.03 L357.80 131.65 L356.27 130.28 L354.71 128.94 L353.12 127.62 L351.51 126.32 L349.88 125.05 L348.22 123.79 L346.54 122.56 L344.85 121.35 L343.13 120.16 L341.41 118.99 L339.67 117.84 L337.91 116.71 L336.15 115.60 L334.38 114.52 L332.61 113.45 L330.83 112.40 L329.04 111.38 L327.26 110.37 L325.48 109.39 L323.69 108.42 L321.90 107.47 L320.11 106.55 L318.32 105.64 L316.52 104.75 L314.73 103.87 L312.93 103.02 L311.12 102.18 L309.32 101.36 L307.51 100.55 L305.69 99.76 L303.88 98.99 L302.06 98.23 L300.23 97.49 L298.40 96.77 L296.57 96.06 L294.73 95.36 L292.88 94.68 L291.03 94.01 L289.18 93.36 L287.32 92.72 L285.45 92.09 L283.57 91.48 L281.69 90.87 L279.81 90.28 L277.91 89.71 L276.01 89.14 L274.11 88.59 L272.19 88.04 L270.27 87.51 L268.34 86.99 L266.40 86.47 L264.45 85.97 L262.49 85.48 L260.53 84.99 L258.55 84.52 L256.57 84.05 L254.58 83.59 L252.58 83.13 L250.59 82.66 L248.59 82.19 L246.60 81.71 L244.61 81.20 L242.63 80.68 L240.66 80.14 L238.71 79.56 L236.77 78.96 L234.85 78.32 L232.94 77.63 L231.06 76.90 L229.21 76.13 L227.39 75.29 L225.59 74.41 L223.82 73.48 L222.07 72.50 L220.35 71.48 L218.64 70.43 L216.94 69.35 L215.26 68.24 L213.59 67.12 L211.92 65.99 L210.25 64.85 L208.59 63.70 L206.92 62.56 L205.25 61.43 L203.57 60.32 L201.88 59.22 L200.17 58.15 L198.45 57.11 L196.70 56.10" fill="none" stroke="#22a05c" stroke-width="1.70" stroke-linejoin="round" stroke-linecap="round"/>

<line x1="153.8" y1="57.7" x2="165.2" y2="71.5" stroke="#ea5a60" stroke-width="0.90"/><polygon points="168.3,75.3 162.7,72.9 167.0,69.4" fill="#e81c24"/><line x1="174.0" y1="51.0" x2="165.5" y2="44.6" stroke="#ea5a60" stroke-width="0.90"/><polygon points="161.6,41.6 167.6,42.6 164.2,47.1" fill="#e81c24"/><line x1="417.8" y1="126.5" x2="423.9" y2="129.4" stroke="#ea5a60" stroke-width="0.90"/><polygon points="427.6,131.2 422.4,131.5 424.5,127.0" fill="#e81c24"/><line x1="161.2" y1="22.9" x2="164.5" y2="35.7" stroke="#444" stroke-width="0.90"/><polygon points="165.7,40.2 161.8,35.8 167.0,34.5" fill="#111"/><line x1="256.0" y1="114.5" x2="248.8" y2="109.3" stroke="#444" stroke-width="0.70"/><polygon points="245.0,106.6 250.8,107.4 247.6,111.8" fill="#111"/><line x1="428.7" y1="135.2" x2="441.5" y2="135.1" stroke="#888" stroke-width="0.90"/><polygon points="445.8,135.0 441.0,137.7 441.0,132.5" fill="#111"/><line x1="193.8" y1="30.7" x2="197.2" y2="40.7" stroke="#86987a" stroke-width="0.90"/><polygon points="198.6,44.8 194.8,41.0 199.3,39.5" fill="#4c7c2c"/><line x1="274.8" y1="83.7" x2="254.0" y2="77.4" stroke="#86987a" stroke-width="0.90"/><polygon points="249.9,76.2 255.2,75.3 253.8,79.9" fill="#4c7c2c"/><line x1="458.2" y1="73.5" x2="475.8" y2="75.4" stroke="#86987a" stroke-width="0.90"/><polygon points="480.1,75.8 475.1,77.7 475.6,72.9" fill="#4c7c2c"/>
</g>
<line x1="76.3" y1="14.1" x2="537.3" y2="14.1" stroke="#111" stroke-width="1.6"/>
<line x1="537.3" y1="14.1" x2="537.3" y2="394" stroke="#111" stroke-width="1.6"/>
<line x1="83.5" y1="13.3" x2="83.5" y2="400.5" stroke="#111" stroke-width="1.8"/>
<line x1="76.3" y1="394" x2="538.1" y2="394" stroke="#111" stroke-width="1.8"/>
<line x1="83.6" y1="394" x2="83.6" y2="400.5" stroke="#111" stroke-width="1.5"/><line x1="111.9" y1="394" x2="111.9" y2="397.3" stroke="#111" stroke-width="1.5"/><line x1="140.3" y1="394" x2="140.3" y2="400.5" stroke="#111" stroke-width="1.5"/><line x1="168.6" y1="394" x2="168.6" y2="397.3" stroke="#111" stroke-width="1.5"/><line x1="197.0" y1="394" x2="197.0" y2="400.5" stroke="#111" stroke-width="1.5"/><line x1="225.3" y1="394" x2="225.3" y2="397.3" stroke="#111" stroke-width="1.5"/><line x1="253.7" y1="394" x2="253.7" y2="400.5" stroke="#111" stroke-width="1.5"/><line x1="282.0" y1="394" x2="282.0" y2="397.3" stroke="#111" stroke-width="1.5"/><line x1="310.4" y1="394" x2="310.4" y2="400.5" stroke="#111" stroke-width="1.5"/><line x1="338.8" y1="394" x2="338.8" y2="397.3" stroke="#111" stroke-width="1.5"/><line x1="367.1" y1="394" x2="367.1" y2="400.5" stroke="#111" stroke-width="1.5"/><line x1="395.4" y1="394" x2="395.4" y2="397.3" stroke="#111" stroke-width="1.5"/><line x1="423.8" y1="394" x2="423.8" y2="400.5" stroke="#111" stroke-width="1.5"/><line x1="452.1" y1="394" x2="452.1" y2="397.3" stroke="#111" stroke-width="1.5"/><line x1="480.5" y1="394" x2="480.5" y2="400.5" stroke="#111" stroke-width="1.5"/><line x1="508.9" y1="394" x2="508.9" y2="397.3" stroke="#111" stroke-width="1.5"/><line x1="537.2" y1="394" x2="537.2" y2="400.5" stroke="#111" stroke-width="1.5"/><line x1="76.3" y1="393.7" x2="83.5" y2="393.7" stroke="#111" stroke-width="1.5"/><line x1="79.3" y1="379.4" x2="83.5" y2="379.4" stroke="#111" stroke-width="1.2"/><line x1="79.3" y1="371.1" x2="83.5" y2="371.1" stroke="#111" stroke-width="1.2"/><line x1="79.3" y1="365.1" x2="83.5" y2="365.1" stroke="#111" stroke-width="1.2"/><line x1="79.3" y1="360.5" x2="83.5" y2="360.5" stroke="#111" stroke-width="1.2"/><line x1="79.3" y1="356.8" x2="83.5" y2="356.8" stroke="#111" stroke-width="1.2"/><line x1="79.3" y1="353.6" x2="83.5" y2="353.6" stroke="#111" stroke-width="1.2"/><line x1="79.3" y1="350.8" x2="83.5" y2="350.8" stroke="#111" stroke-width="1.2"/><line x1="79.3" y1="348.4" x2="83.5" y2="348.4" stroke="#111" stroke-width="1.2"/><line x1="76.3" y1="346.3" x2="83.5" y2="346.3" stroke="#111" stroke-width="1.5"/><line x1="79.3" y1="332.0" x2="83.5" y2="332.0" stroke="#111" stroke-width="1.2"/><line x1="79.3" y1="323.6" x2="83.5" y2="323.6" stroke="#111" stroke-width="1.2"/><line x1="79.3" y1="317.7" x2="83.5" y2="317.7" stroke="#111" stroke-width="1.2"/><line x1="79.3" y1="313.1" x2="83.5" y2="313.1" stroke="#111" stroke-width="1.2"/><line x1="79.3" y1="309.3" x2="83.5" y2="309.3" stroke="#111" stroke-width="1.2"/><line x1="79.3" y1="306.2" x2="83.5" y2="306.2" stroke="#111" stroke-width="1.2"/><line x1="79.3" y1="303.4" x2="83.5" y2="303.4" stroke="#111" stroke-width="1.2"/><line x1="79.3" y1="301.0" x2="83.5" y2="301.0" stroke="#111" stroke-width="1.2"/><line x1="76.3" y1="298.8" x2="83.5" y2="298.8" stroke="#111" stroke-width="1.5"/><line x1="79.3" y1="284.5" x2="83.5" y2="284.5" stroke="#111" stroke-width="1.2"/><line x1="79.3" y1="276.2" x2="83.5" y2="276.2" stroke="#111" stroke-width="1.2"/><line x1="79.3" y1="270.2" x2="83.5" y2="270.2" stroke="#111" stroke-width="1.2"/><line x1="79.3" y1="265.6" x2="83.5" y2="265.6" stroke="#111" stroke-width="1.2"/><line x1="79.3" y1="261.9" x2="83.5" y2="261.9" stroke="#111" stroke-width="1.2"/><line x1="79.3" y1="258.7" x2="83.5" y2="258.7" stroke="#111" stroke-width="1.2"/><line x1="79.3" y1="255.9" x2="83.5" y2="255.9" stroke="#111" stroke-width="1.2"/><line x1="79.3" y1="253.5" x2="83.5" y2="253.5" stroke="#111" stroke-width="1.2"/><line x1="76.3" y1="251.3" x2="83.5" y2="251.3" stroke="#111" stroke-width="1.5"/><line x1="79.3" y1="237.1" x2="83.5" y2="237.1" stroke="#111" stroke-width="1.2"/><line x1="79.3" y1="228.7" x2="83.5" y2="228.7" stroke="#111" stroke-width="1.2"/><line x1="79.3" y1="222.8" x2="83.5" y2="222.8" stroke="#111" stroke-width="1.2"/><line x1="79.3" y1="218.2" x2="83.5" y2="218.2" stroke="#111" stroke-width="1.2"/><line x1="79.3" y1="214.4" x2="83.5" y2="214.4" stroke="#111" stroke-width="1.2"/><line x1="79.3" y1="211.3" x2="83.5" y2="211.3" stroke="#111" stroke-width="1.2"/><line x1="79.3" y1="208.5" x2="83.5" y2="208.5" stroke="#111" stroke-width="1.2"/><line x1="79.3" y1="206.1" x2="83.5" y2="206.1" stroke="#111" stroke-width="1.2"/><line x1="76.3" y1="203.9" x2="83.5" y2="203.9" stroke="#111" stroke-width="1.5"/><line x1="79.3" y1="189.6" x2="83.5" y2="189.6" stroke="#111" stroke-width="1.2"/><line x1="79.3" y1="181.3" x2="83.5" y2="181.3" stroke="#111" stroke-width="1.2"/><line x1="79.3" y1="175.3" x2="83.5" y2="175.3" stroke="#111" stroke-width="1.2"/><line x1="79.3" y1="170.7" x2="83.5" y2="170.7" stroke="#111" stroke-width="1.2"/><line x1="79.3" y1="167.0" x2="83.5" y2="167.0" stroke="#111" stroke-width="1.2"/><line x1="79.3" y1="163.8" x2="83.5" y2="163.8" stroke="#111" stroke-width="1.2"/><line x1="79.3" y1="161.0" x2="83.5" y2="161.0" stroke="#111" stroke-width="1.2"/><line x1="79.3" y1="158.6" x2="83.5" y2="158.6" stroke="#111" stroke-width="1.2"/><line x1="76.3" y1="156.5" x2="83.5" y2="156.5" stroke="#111" stroke-width="1.5"/><line x1="79.3" y1="142.2" x2="83.5" y2="142.2" stroke="#111" stroke-width="1.2"/><line x1="79.3" y1="133.8" x2="83.5" y2="133.8" stroke="#111" stroke-width="1.2"/><line x1="79.3" y1="127.9" x2="83.5" y2="127.9" stroke="#111" stroke-width="1.2"/><line x1="79.3" y1="123.3" x2="83.5" y2="123.3" stroke="#111" stroke-width="1.2"/><line x1="79.3" y1="119.5" x2="83.5" y2="119.5" stroke="#111" stroke-width="1.2"/><line x1="79.3" y1="116.4" x2="83.5" y2="116.4" stroke="#111" stroke-width="1.2"/><line x1="79.3" y1="113.6" x2="83.5" y2="113.6" stroke="#111" stroke-width="1.2"/><line x1="79.3" y1="111.2" x2="83.5" y2="111.2" stroke="#111" stroke-width="1.2"/><line x1="76.3" y1="109.0" x2="83.5" y2="109.0" stroke="#111" stroke-width="1.5"/><line x1="79.3" y1="94.7" x2="83.5" y2="94.7" stroke="#111" stroke-width="1.2"/><line x1="79.3" y1="86.4" x2="83.5" y2="86.4" stroke="#111" stroke-width="1.2"/><line x1="79.3" y1="80.4" x2="83.5" y2="80.4" stroke="#111" stroke-width="1.2"/><line x1="79.3" y1="75.8" x2="83.5" y2="75.8" stroke="#111" stroke-width="1.2"/><line x1="79.3" y1="72.1" x2="83.5" y2="72.1" stroke="#111" stroke-width="1.2"/><line x1="79.3" y1="68.9" x2="83.5" y2="68.9" stroke="#111" stroke-width="1.2"/><line x1="79.3" y1="66.1" x2="83.5" y2="66.1" stroke="#111" stroke-width="1.2"/><line x1="79.3" y1="63.7" x2="83.5" y2="63.7" stroke="#111" stroke-width="1.2"/><line x1="76.3" y1="61.6" x2="83.5" y2="61.6" stroke="#111" stroke-width="1.5"/><line x1="79.3" y1="47.3" x2="83.5" y2="47.3" stroke="#111" stroke-width="1.2"/><line x1="79.3" y1="38.9" x2="83.5" y2="38.9" stroke="#111" stroke-width="1.2"/><line x1="79.3" y1="33.0" x2="83.5" y2="33.0" stroke="#111" stroke-width="1.2"/><line x1="79.3" y1="28.4" x2="83.5" y2="28.4" stroke="#111" stroke-width="1.2"/><line x1="79.3" y1="24.6" x2="83.5" y2="24.6" stroke="#111" stroke-width="1.2"/><line x1="79.3" y1="21.5" x2="83.5" y2="21.5" stroke="#111" stroke-width="1.2"/><line x1="79.3" y1="18.7" x2="83.5" y2="18.7" stroke="#111" stroke-width="1.2"/><line x1="79.3" y1="16.3" x2="83.5" y2="16.3" stroke="#111" stroke-width="1.2"/><line x1="76.3" y1="14.1" x2="83.5" y2="14.1" stroke="#111" stroke-width="1.5"/>
<text x="263.6" y="445.4" font-family="Carlito, Liberation Sans, sans-serif" font-size="21.1" fill="#1a1a1a">E (V) vs. SCE</text>
<text transform="translate(21.4,261.2) rotate(-90)" font-family="Liberation Sans, Arial, sans-serif" font-size="20.2" fill="#1a1a1a">Log i (A/cm<tspan dy="-7" font-size="12">2</tspan><tspan dy="7">)</tspan></text>
</svg>
</body></html>
